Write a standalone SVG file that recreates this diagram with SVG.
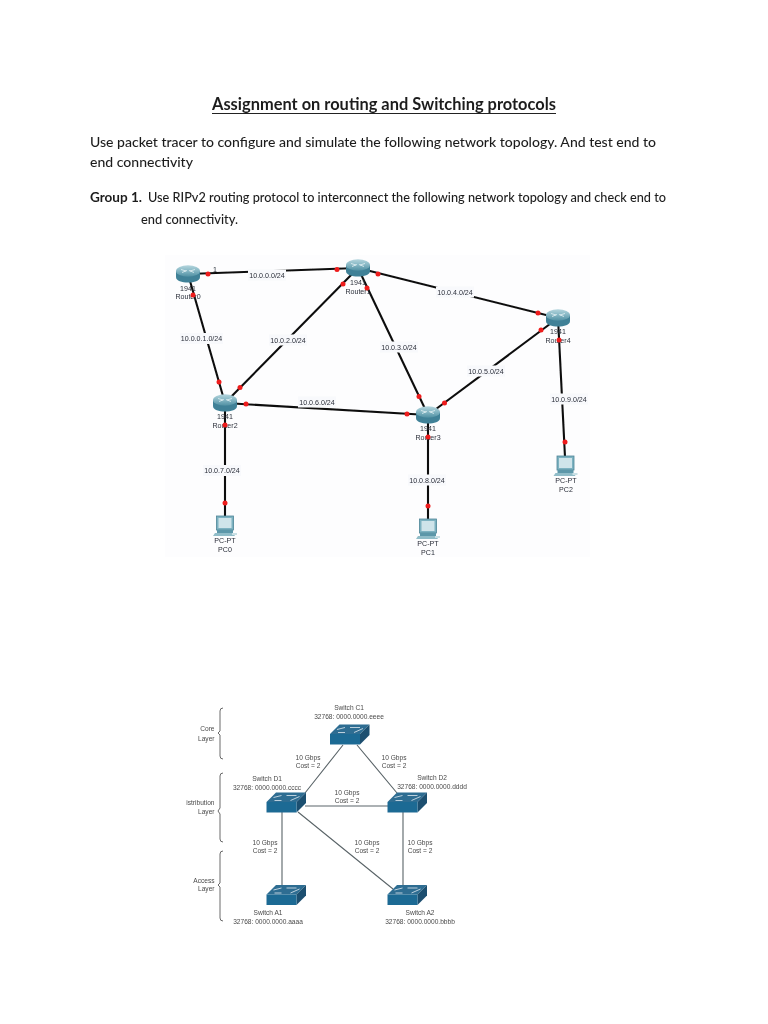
<svg xmlns="http://www.w3.org/2000/svg" width="768" height="1024" viewBox="0 0 768 1024">
<style>
.doc{font-family:Lato,"Liberation Sans",sans-serif;fill:#1f1f1f}
.n{font-family:"Liberation Sans",Arial,sans-serif;font-size:7.100px;fill:#2b2f3a;text-anchor:middle}
.s{font-family:"Liberation Sans",Arial,sans-serif;font-size:6.600px;fill:#4a4a4a;text-anchor:middle}
.e{text-anchor:end}
.l{stroke:#111;stroke-width:2.100;fill:none}
.sl{stroke:#5a6468;stroke-width:1.100;fill:none}
.b{stroke:#444;stroke-width:.8;fill:none}
.d{fill:#ee1c1c}
.lb{fill:#f8f9fc}
</style>
<defs>
<filter id="soft" x="-5%" y="-5%" width="110%" height="110%"><feGaussianBlur stdDeviation="0.35"/></filter>
<linearGradient id="rg" x1="0" y1="0" x2="0" y2="1"><stop offset="0" stop-color="#b5d6de"/><stop offset=".55" stop-color="#7fb2c0"/><stop offset="1" stop-color="#4f8fa2"/></linearGradient>
<g id="router">
<path d="M-12-3V3C-12 7-6 8.500 0 8.500S12 7 12 3V-3Z" fill="#3f8197"/>
<ellipse cx="0" cy="-3" rx="12" ry="5.800" fill="url(#rg)"/>
<path d="M-7-4.500L-2-3M7-4.500L2-3M-6-1.500L-1-3.500M6-1.500L1-3.500" stroke="#e6f2f5" stroke-width=".8"/>
</g>
<g id="pc">
<rect x="-8.500" y="-11" width="17" height="14" fill="#7db2c1" stroke="#4d8597" stroke-width=".8"/>
<rect x="-6.500" y="-9" width="13" height="10" fill="#cfe4ea"/>
<path d="M-8 3H8V6H-8Z" fill="#5b97a9"/>
<path d="M-10 6H8L10 9H-12Z" fill="#8fbcc8"/>
<rect x="7" y="6" width="5" height="2" fill="#c9dfe4"/>
</g>
<g id="sw">
<path d="M0 9.500L9.500 0H39.500L30 9.500Z" fill="#2f6d92"/>
<path d="M30 9.500L39.500 0V10.500L30 20Z" fill="#1d4f70"/>
<rect x="0" y="9.500" width="30" height="10.500" fill="#1f6a94"/>
<path d="M8 8H15M20 3H30M7 5L15 3M24 8L33 4" stroke="#dfeaf0" stroke-width=".8"/>
</g>
</defs>
<rect width="768" height="1024" fill="#fff"/>
<rect x="165" y="255" width="425" height="302" fill="#fdfdfe"/>
<g id="page-text" filter="url(#soft)">
<text class="doc" x="212" y="110" font-size="16.500" font-weight="700" textLength="344" lengthAdjust="spacingAndGlyphs">Assignment on routing and Switching protocols</text>
<path d="M212 113.500H556" stroke="#222" stroke-width="1.100"/>
<text class="doc" x="90" y="147" font-size="14" font-weight="500" textLength="566" lengthAdjust="spacingAndGlyphs">Use packet tracer to configure and simulate the following network topology. And test end to</text>
<text class="doc" x="90" y="167" font-size="14" font-weight="500" textLength="103" lengthAdjust="spacingAndGlyphs">end connectivity</text>
<text class="doc" x="90" y="202" font-size="14" font-weight="700" textLength="52" lengthAdjust="spacingAndGlyphs">Group 1.</text>
<text class="doc" x="148" y="202" font-size="14" font-weight="500" textLength="518" lengthAdjust="spacingAndGlyphs">Use RIPv2 routing protocol to interconnect the following network topology and check end to</text>
<text class="doc" x="141" y="224" font-size="14" font-weight="500" textLength="97" lengthAdjust="spacingAndGlyphs">end connectivity.</text>
</g>
<g id="connectors" filter="url(#soft)">
<path class="l" d="M188 274L358 268M188 274L225 403M358 268L225 403M358 268L428 415M358 268L558 318M225 403L428 415M428 415L558 318M558 318L565 457M225 403V516M428 415V519"/>
<path class="sl" d="M343 745L305 793M357 745L397 793M305 806H388M282 812V885M298 812L393 889M403 812V885"/>
</g>
<g id="link-labels" filter="url(#soft)">
<rect class="lb" x="248" y="269.500" width="38" height="11"/><text class="n" x="267" y="277.500">10.0.0.0/24</text>
<rect class="lb" x="180" y="333" width="43" height="11"/><text class="n" x="201.500" y="341">10.0.0.1.0/24</text>
<rect class="lb" x="269" y="334.500" width="38" height="11"/><text class="n" x="288" y="342.500">10.0.2.0/24</text>
<rect class="lb" x="380" y="341.500" width="38" height="11"/><text class="n" x="399" y="349.500">10.0.3.0/24</text>
<rect class="lb" x="436" y="286.500" width="38" height="11"/><text class="n" x="455" y="294.500">10.0.4.0/24</text>
<rect class="lb" x="467" y="365.500" width="38" height="11"/><text class="n" x="486" y="373.500">10.0.5.0/24</text>
<rect class="lb" x="298" y="396.500" width="38" height="11"/><text class="n" x="317" y="404.500">10.0.6.0/24</text>
<rect class="lb" x="203" y="465" width="38" height="11"/><text class="n" x="222" y="473">10.0.7.0/24</text>
<rect class="lb" x="408" y="474.500" width="38" height="11"/><text class="n" x="427" y="482.500">10.0.8.0/24</text>
<rect class="lb" x="550" y="393.500" width="38" height="11"/><text class="n" x="569" y="401.500">10.0.9.0/24</text>
<text class="n" x="215" y="272">1</text>
</g>
<g id="Router0" filter="url(#soft)"><use href="#router" x="188" y="274"/><text class="n" x="188" y="290.500">1941</text><text class="n" x="188" y="298.500">Router0</text></g>
<g id="Router1" filter="url(#soft)"><use href="#router" x="358" y="268"/><text class="n" x="358" y="284.500">1941</text><text class="n" x="358" y="293.500">Router1</text></g>
<g id="Router2" filter="url(#soft)"><use href="#router" x="225" y="403"/><text class="n" x="225" y="418.500">1941</text><text class="n" x="225" y="427.500">Router2</text></g>
<g id="Router3" filter="url(#soft)"><use href="#router" x="428" y="415"/><text class="n" x="428" y="430.500">1941</text><text class="n" x="428" y="439.500">Router3</text></g>
<g id="Router4" filter="url(#soft)"><use href="#router" x="558" y="318"/><text class="n" x="558" y="333.500">1941</text><text class="n" x="558" y="342.500">Router4</text></g>
<g id="PC0" filter="url(#soft)"><use href="#pc" x="225" y="527"/><text class="n" x="225" y="542.500">PC-PT</text><text class="n" x="225" y="551.500">PC0</text></g>
<g id="PC1" filter="url(#soft)"><use href="#pc" x="428" y="530"/><text class="n" x="428" y="545.500">PC-PT</text><text class="n" x="428" y="554.500">PC1</text></g>
<g id="PC2" filter="url(#soft)"><use href="#pc" x="565.500" y="467"/><text class="n" x="566" y="482.500">PC-PT</text><text class="n" x="566" y="491.500">PC2</text></g>
<g id="link-dots">
<circle class="d" cx="208" cy="274" r="2.500"/><circle class="d" cx="193" cy="295" r="2.500"/>
<circle class="d" cx="337" cy="269.500" r="2.500"/><circle class="d" cx="343" cy="284" r="2.500"/><circle class="d" cx="367" cy="288" r="2.500"/><circle class="d" cx="378" cy="274" r="2.500"/>
<circle class="d" cx="219" cy="382" r="2.500"/><circle class="d" cx="240" cy="387.500" r="2.500"/><circle class="d" cx="246" cy="404" r="2.500"/><circle class="d" cx="225" cy="425" r="2.500"/>
<circle class="d" cx="419" cy="396.500" r="2.500"/><circle class="d" cx="444.500" cy="403" r="2.500"/><circle class="d" cx="407" cy="414" r="2.500"/><circle class="d" cx="428" cy="437" r="2.500"/>
<circle class="d" cx="538" cy="313" r="2.500"/><circle class="d" cx="541" cy="330" r="2.500"/><circle class="d" cx="559" cy="340" r="2.500"/>
<circle class="d" cx="225" cy="503" r="2.500"/><circle class="d" cx="428" cy="506" r="2.500"/><circle class="d" cx="565" cy="442" r="2.500"/>
</g>
<g id="SwitchC1" filter="url(#soft)"><use href="#sw" x="330" y="724.500"/><text class="s" x="349" y="710">Switch C1</text><text class="s" x="349" y="719">32768: 0000.0000.eeee</text></g>
<g id="SwitchD1" filter="url(#soft)"><use href="#sw" x="266.500" y="792.500"/><text class="s" x="267" y="781">Switch D1</text><text class="s" x="267" y="790">32768: 0000.0000.cccc</text></g>
<g id="SwitchD2" filter="url(#soft)"><use href="#sw" x="387.500" y="792.500"/><text class="s" x="432" y="780">Switch D2</text><text class="s" x="432" y="789">32768: 0000.0000.dddd</text></g>
<g id="SwitchA1" filter="url(#soft)"><use href="#sw" x="266.500" y="885"/><text class="s" x="268" y="915">Switch A1</text><text class="s" x="268" y="924">32768: 0000.0000.aaaa</text></g>
<g id="SwitchA2" filter="url(#soft)"><use href="#sw" x="387.500" y="885"/><text class="s" x="420" y="915">Switch A2</text><text class="s" x="420" y="924">32768: 0000.0000.bbbb</text></g>
<g id="cost-labels" filter="url(#soft)">
<text class="s" x="308" y="760">10 Gbps</text><text class="s" x="308" y="768">Cost = 2</text>
<text class="s" x="394" y="760">10 Gbps</text><text class="s" x="394" y="768">Cost = 2</text>
<text class="s" x="347" y="795">10 Gbps</text><text class="s" x="347" y="803">Cost = 2</text>
<text class="s" x="265" y="845">10 Gbps</text><text class="s" x="265" y="853">Cost = 2</text>
<text class="s" x="367" y="845">10 Gbps</text><text class="s" x="367" y="853">Cost = 2</text>
<text class="s" x="420" y="845">10 Gbps</text><text class="s" x="420" y="853">Cost = 2</text>
</g>
<g id="layers" filter="url(#soft)">
<text class="s e" x="214.500" y="731">Core</text><text class="s e" x="214.500" y="741">Layer</text>
<path class="b" d="M223 708Q220 708 220 711V731L218 733L220 735V756Q220 759 223 759"/>
<text class="s e" x="214.500" y="805">istribution</text><text class="s e" x="214.500" y="813.500">Layer</text>
<path class="b" d="M223 773Q220 773 220 776V808L218 811L220 814V839Q220 842 223 842"/>
<text class="s e" x="214.500" y="883">Access</text><text class="s e" x="214.500" y="891">Layer</text>
<path class="b" d="M223 851Q220 851 220 854V883L218 885L220 887V918Q220 921 223 921"/>
</g>
</svg>
